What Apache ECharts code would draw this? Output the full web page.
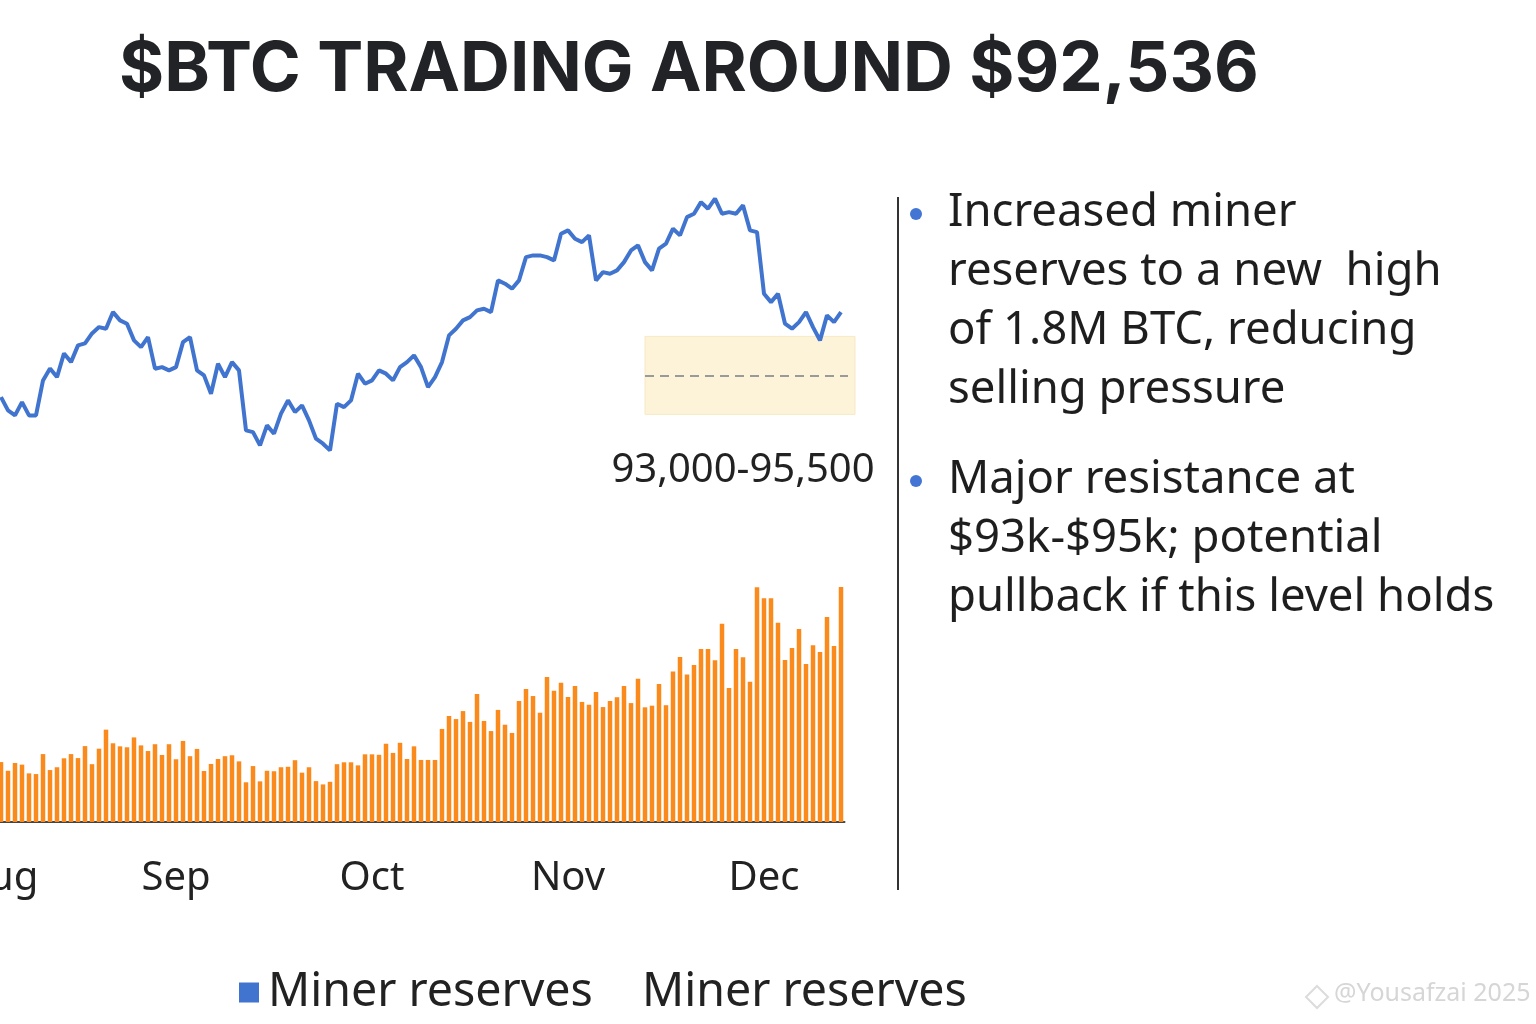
<!DOCTYPE html>
<html>
<head>
<meta charset="utf-8">
<script src="https://cdn.jsdelivr.net/npm/echarts@6/dist/echarts.min.js"></script>
<style>
  html, body { margin: 0; padding: 0; background: #fff; }
  #chart { width: 1536px; height: 1024px; }
</style>
</head>
<body>
<div id="chart"></div>
<script>
// one slot per bar, 28 slots per month
var slots = [];
for (var i = 0; i < 121; i++) slots.push('d' + i);
// the resistance zone is drawn a little past the last bar
var zoneSlots = slots.concat(['d121', 'd122']);

var monthNames = ['Aug', 'Sep', 'Oct', 'Nov', 'Dec'];
var monthAt = [0, 25, 53, 81, 109];
var tickAt = [25, 53, 81, 109];

// BTC price, USD
var price = [
  93555, 93128, 92968, 93394, 92968, 92968, 94090, 94474, 94196, 94955,
  94676, 95212, 95276, 95596, 95798, 95747, 96279, 96013, 95907, 95372,
  95157, 95478, 94465, 94516, 94410, 94516, 95317, 95478, 94410, 94250,
  93664, 94625, 94196, 94676, 94410, 92487, 92433, 92007, 92648, 92382,
  93023, 93449, 93074, 93289, 92808, 92221, 92061, 91846, 93343, 93234,
  93449, 94305, 93984, 94090, 94410, 94305, 94090, 94516, 94676, 94891,
  94516, 93875, 94196, 94676, 95532, 95747, 96013, 96119, 96333, 96388,
  96279, 97295, 97189, 97029, 97295, 98042, 98096, 98096, 98042, 97936,
  98791, 98897, 98631, 98522, 98737, 97295, 97561, 97510, 97615, 97881,
  98256, 98417, 97881, 97615, 98311, 98471, 98952, 98737, 99324, 99432,
  99804, 99593, 99913, 99432, 99484, 99432, 99699, 98897, 98843, 96869,
  96599, 96869, 95907, 95747, 95958, 96279, 95798, 95372, 96173, 95958,
  96279
];

// miner reserves, thousand BTC
var reserves = [
  1725.5, 1721.8, 1725.1, 1724.4, 1720.7, 1720.4, 1728.9, 1722.1, 1723.3, 1727.1,
  1728.9, 1727.2, 1732.3, 1724.6, 1731.2, 1739.3, 1733.5, 1732.2, 1731.8, 1736.0,
  1732.6, 1730.2, 1733.1, 1728.5, 1733.1, 1726.7, 1734.5, 1728.0, 1731.1, 1721.7,
  1724.7, 1726.8, 1728.0, 1728.4, 1725.8, 1716.9, 1723.8, 1717.3, 1721.8, 1721.6,
  1723.3, 1723.5, 1726.3, 1721.0, 1723.3, 1717.4, 1716.0, 1717.1, 1724.6, 1725.4,
  1725.4, 1724.1, 1728.8, 1728.8, 1728.6, 1733.3, 1729.4, 1733.7, 1726.8, 1732.2,
  1726.4, 1726.4, 1726.4, 1739.6, 1745.1, 1743.8, 1747.2, 1742.6, 1754.5, 1743.0,
  1738.7, 1747.7, 1741.4, 1737.9, 1751.5, 1756.6, 1753.6, 1746.5, 1761.7, 1755.9,
  1759.3, 1753.2, 1757.9, 1751.1, 1749.9, 1755.3, 1748.9, 1751.5, 1753.1, 1757.9,
  1750.6, 1761.0, 1748.8, 1749.5, 1758.7, 1749.7, 1764.0, 1770.2, 1762.8, 1766.8,
  1773.6, 1773.6, 1768.8, 1784.4, 1757.0, 1773.6, 1770.1, 1759.7, 1799.9, 1795.2,
  1795.2, 1784.8, 1768.9, 1774.0, 1782.1, 1767.2, 1775.2, 1772.3, 1787.2, 1774.9,
  1800
];

var zoneLow = 93000;
var zoneHigh = 95500;
var zoneStart = 92;

var bullets = [
  'Increased miner\nreserves to a new  high\nof 1.8M BTC, reducing\nselling pressure',
  'Major resistance at\n$93k-$95k; potential\npullback if this level holds'
];

var chart = echarts.init(document.getElementById('chart'));

var font = '"Noto Sans", "Open Sans", sans-serif';
var blue = '#4074ce';

var option = {
  backgroundColor: '#ffffff',
  animation: false,
  textStyle: { fontFamily: font, color: '#222' },
  title: {
    text: '$BTC TRADING AROUND $92,536',
    left: 114,
    top: 31,
    textStyle: {
      fontFamily: 'Inter, Roboto, sans-serif',
      fontWeight: 700,
      fontSize: 69,
      color: '#212326'
    }
  },
  legend: [{
    data: [{ name: 'Miner reserves', itemStyle: { color: blue } }],
    left: 234,
    top: 964,
    icon: 'rect',
    itemWidth: 20,
    itemHeight: 20,
    selectedMode: false,
    textStyle: { fontSize: 46.5, color: '#222', padding: [0, 0, 0, 4], fontFamily: font }
  }, {
    data: ['Miner reserves'],
    left: 632,
    top: 964,
    icon: 'none',
    itemWidth: 0,
    selectedMode: false,
    textStyle: { fontSize: 46.5, color: '#222', fontFamily: font }
  }],
  grid: [
    { left: -2.5, width: 861, top: 196, height: 312, outerBoundsMode: 'none', containLabel: false },
    { left: -2.5, width: 847, top: 587, height: 235, outerBoundsMode: 'none', containLabel: false }
  ],
  xAxis: [{
    type: 'category',
    gridIndex: 0,
    data: zoneSlots,
    show: false
  }, {
    type: 'category',
    gridIndex: 1,
    data: slots,
    axisLine: { lineStyle: { color: '#444', width: 2 } },
    axisTick: {
      alignWithLabel: true,
      length: 14,
      lineStyle: { color: '#444', width: 2 },
      interval: function (idx) { return tickAt.indexOf(idx) >= 0; }
    },
    axisLabel: {
      interval: function (idx) { return monthAt.indexOf(idx) >= 0; },
      formatter: function (val, idx) {
        var k = monthAt.indexOf(idx);
        return k >= 0 ? monthNames[k] : '';
      },
      margin: 37,
      fontSize: 40,
      color: '#222',
      fontFamily: font
    }
  }],
  yAxis: [
    { type: 'value', gridIndex: 0, min: 90000, max: 100000, show: false },
    { type: 'value', gridIndex: 1, min: 1700, max: 1800, show: false }
  ],
  series: [{
    name: 'Miner reserves',
    type: 'bar',
    xAxisIndex: 1,
    yAxisIndex: 1,
    data: reserves,
    barWidth: 4.5,
    itemStyle: { color: '#fb8a1c' }
  }, {
    name: 'Miner reserves',
    type: 'line',
    xAxisIndex: 0,
    yAxisIndex: 0,
    data: price,
    showSymbol: false,
    lineStyle: { color: blue, width: 4 },
    itemStyle: { color: blue },
    markArea: {
      silent: true,
      itemStyle: { color: '#fdf3d9', borderColor: '#f7e9c4', borderWidth: 1 },
      label: {
        show: true,
        position: 'bottom',
        distance: 36,
        offset: [-7, 0],
        formatter: '93,000-95,500',
        fontSize: 40,
        color: '#222',
        fontFamily: font
      },
      data: [[
        { xAxis: zoneStart, yAxis: zoneLow },
        { xAxis: zoneSlots.length - 1, yAxis: zoneHigh }
      ]]
    },
    markLine: {
      silent: true,
      symbol: 'none',
      label: { show: false },
      lineStyle: { color: '#9a9a9a', width: 2, type: [9, 6] },
      data: [[
        { xAxis: zoneStart, yAxis: (zoneLow + zoneHigh) / 2 },
        { xAxis: zoneSlots.length - 2, yAxis: (zoneLow + zoneHigh) / 2 }
      ]]
    }
  }],
  graphic: [
    {
      type: 'line',
      shape: { x1: 898, y1: 197, x2: 898, y2: 890 },
      style: { stroke: '#333', lineWidth: 2 }
    },
    { type: 'circle', shape: { cx: 916, cy: 214, r: 6 }, style: { fill: '#4275d4' } },
    { type: 'circle', shape: { cx: 916, cy: 481, r: 6 }, style: { fill: '#4275d4' } },
    {
      type: 'text',
      left: 948,
      top: 184,
      style: { text: bullets[0], font: '45.5px ' + font, fill: '#1e1e1e', lineHeight: 59 }
    },
    {
      type: 'text',
      left: 948,
      top: 451,
      style: { text: bullets[1], font: '45.5px ' + font, fill: '#1e1e1e', lineHeight: 59 }
    },
    {
      type: 'polygon',
      shape: { points: [[1317, 986], [1328, 997], [1317, 1008], [1306, 997]] },
      style: { fill: 'none', stroke: '#dcdcdc', lineWidth: 2 }
    },
    {
      type: 'text',
      left: 1334,
      top: 981,
      style: { text: '@Yousafzai 2025', font: '25px ' + font, fill: '#d6d6d6' }
    }
  ]
};

chart.setOption(option);
</script>
</body>
</html>
